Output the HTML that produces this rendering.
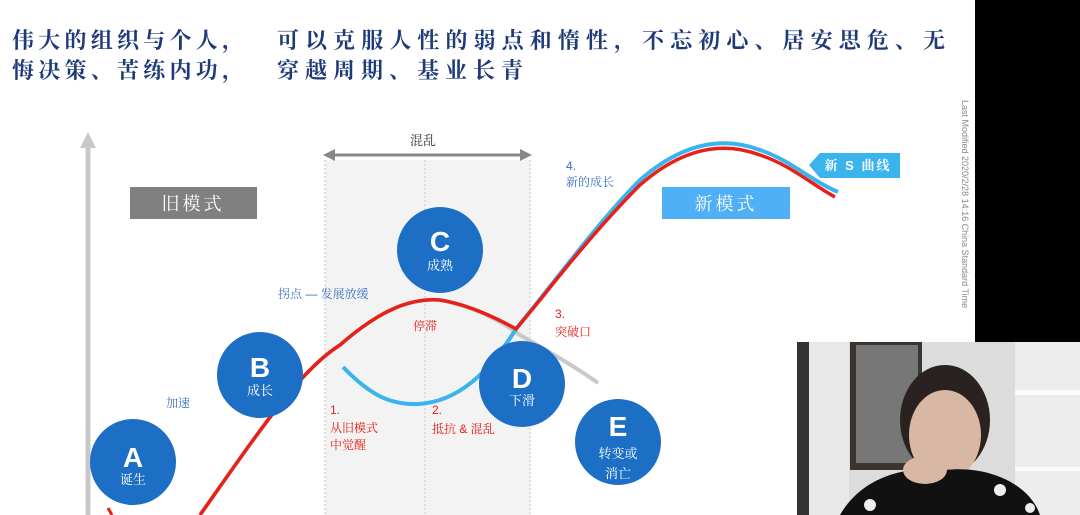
<!DOCTYPE html>
<html><head><meta charset="utf-8"><style>
html,body{margin:0;padding:0;width:1080px;height:515px;overflow:hidden;background:#fff;}
svg{display:block}
text{font-family:"Liberation Sans","Noto Serif CJK SC","Noto Sans CJK SC",sans-serif;}
</style></head><body>
<svg width="1080" height="515" viewBox="0 0 1080 515" xmlns="http://www.w3.org/2000/svg">
<rect width="1080" height="515" fill="#fff"/>
<!-- title -->
<g fill="#1f3a78" font-size="22" font-weight="bold" font-family="'Noto Serif CJK SC','Noto Sans CJK SC',serif">
<text x="12" y="48" textLength="232" lengthAdjust="spacing">伟大的组织与个人，</text>
<text x="277" y="48" textLength="668" lengthAdjust="spacing">可以克服人性的弱点和惰性，不忘初心、居安思危、无</text>
<text x="12" y="78" textLength="232" lengthAdjust="spacing">悔决策、苦练内功，</text>
<text x="277" y="78" textLength="246" lengthAdjust="spacing">穿越周期、基业长青</text>
</g>
<!-- band -->
<rect x="325" y="160" width="205" height="355" fill="#f3f3f3"/>
<g stroke="#c8c8c8" stroke-dasharray="2,2" stroke-width="1">
<line x1="325" y1="160" x2="325" y2="515"/><line x1="425" y1="160" x2="425" y2="515"/><line x1="530" y1="160" x2="530" y2="515"/>
</g>
<line x1="333" y1="155" x2="522" y2="155" stroke="#888" stroke-width="3"/>
<polygon points="323,155 335,149 335,161" fill="#888"/><polygon points="532,155 520,149 520,161" fill="#888"/>
<text x="410" y="145" font-size="13" fill="#333">混乱</text>
<!-- axis -->
<line x1="88" y1="145" x2="88" y2="515" stroke="#c8c8c8" stroke-width="5"/>
<polygon points="80,148 96,148 88,132" fill="#c8c8c8"/>
<!-- boxes -->
<rect x="130" y="187" width="127" height="32" fill="#808080"/>
<text x="193" y="210" font-size="18" fill="#fff" text-anchor="middle" style="letter-spacing:3px">旧模式</text>
<rect x="662" y="187" width="128" height="32" fill="#4fb0f5"/>
<text x="726" y="210" font-size="18" fill="#fff" text-anchor="middle" style="letter-spacing:3px">新模式</text>
<polygon points="820,153 900,153 900,178 820,178 809,165" fill="#3ab4ec"/>
<text x="858" y="170" font-size="13" fill="#fff" font-weight="bold" text-anchor="middle" style="letter-spacing:2px">新 S 曲线</text>
<!-- curves -->
<path d="M200,515 C260,430 300,370 340,345 C380,310 410,298 440,300 C470,305 500,320 520,335 C555,355 580,370 598,383" fill="none" stroke="#c8c8c8" stroke-width="4"/>
<path d="M343,367 C370,395 390,405 418,404 C460,402 490,370 516,329 C560,275 600,220 640,180 C680,145 720,135 760,150 C790,160 810,180 838,192" fill="none" stroke="#3ab4ec" stroke-width="4"/>
<path d="M200,515 C260,430 300,370 340,345 C380,310 410,298 440,300 C470,305 500,320 516,329 L540,300 C570,262 605,220 640,185 C680,150 720,140 760,155 C790,165 810,183 835,197" fill="none" stroke="#e8201a" stroke-width="3.5"/>
<path d="M108,508 L112,515" stroke="#e8201a" stroke-width="3"/>
<!-- circles -->
<g fill="#1c6fc4">
<circle cx="133" cy="462" r="43"/><circle cx="260" cy="375" r="43"/><circle cx="440" cy="250" r="43"/><circle cx="522" cy="384" r="43"/><circle cx="618" cy="442" r="43"/>
</g>
<g fill="#fff" text-anchor="middle">
<g font-size="28" font-weight="bold"><text x="133" y="467">A</text><text x="260" y="377">B</text><text x="440" y="251">C</text><text x="522" y="388">D</text><text x="618" y="436">E</text></g>
<g font-size="13"><text x="133" y="484">诞生</text><text x="260" y="395">成长</text><text x="440" y="270">成熟</text><text x="522" y="405">下滑</text><text x="618" y="458">转变或</text><text x="618" y="478">消亡</text></g>
</g>
<!-- labels -->
<g fill="#3a6fc0" font-size="12"><text x="278" y="298">拐点 — 发展放缓</text><text x="166" y="407">加速</text><text x="566" y="170">4.</text><text x="566" y="186">新的成长</text></g>
<g fill="#e8201a" font-size="12"><text x="413" y="330">停滞</text><text x="555" y="318">3.</text><text x="555" y="336">突破口</text>
<text x="330" y="414">1.</text><text x="330" y="432">从旧模式</text><text x="330" y="449">中觉醒</text>
<text x="432" y="414">2.</text><text x="432" y="433">抵抗 &amp; 混乱</text></g>
<text transform="translate(962,100) rotate(90)" font-size="9" fill="#888">Last Modified 2020/2/28 14:16 China Standard Time</text>
<!-- black area -->
<rect x="975" y="0" width="105" height="342" fill="#000"/>
<!-- webcam -->
<rect x="797" y="342" width="283" height="173" fill="#dcdcdc"/>
<rect x="797" y="342" width="12" height="173" fill="#333"/>
<rect x="809" y="342" width="40" height="173" fill="#e8e8e8"/>
<rect x="850" y="342" width="72" height="128" fill="#3a3530"/>
<rect x="856" y="345" width="62" height="118" fill="#777"/>
<rect x="1015" y="342" width="65" height="173" fill="#ececec"/>
<rect x="1015" y="390" width="65" height="5" fill="#fafafa"/><rect x="1015" y="467" width="65" height="4" fill="#fafafa"/>
<ellipse cx="945" cy="420" rx="45" ry="55" fill="#2a2220"/>
<ellipse cx="945" cy="435" rx="36" ry="45" fill="#d8b8a4"/>
<path d="M840,515 C860,480 900,465 945,470 C990,465 1030,485 1040,515 Z" fill="#111"/>
<circle cx="870" cy="505" r="6" fill="#eee"/><circle cx="1000" cy="490" r="6" fill="#eee"/><circle cx="1030" cy="508" r="5" fill="#eee"/>
<ellipse cx="925" cy="470" rx="22" ry="14" fill="#d8b8a4"/>
</svg>
</body></html>
